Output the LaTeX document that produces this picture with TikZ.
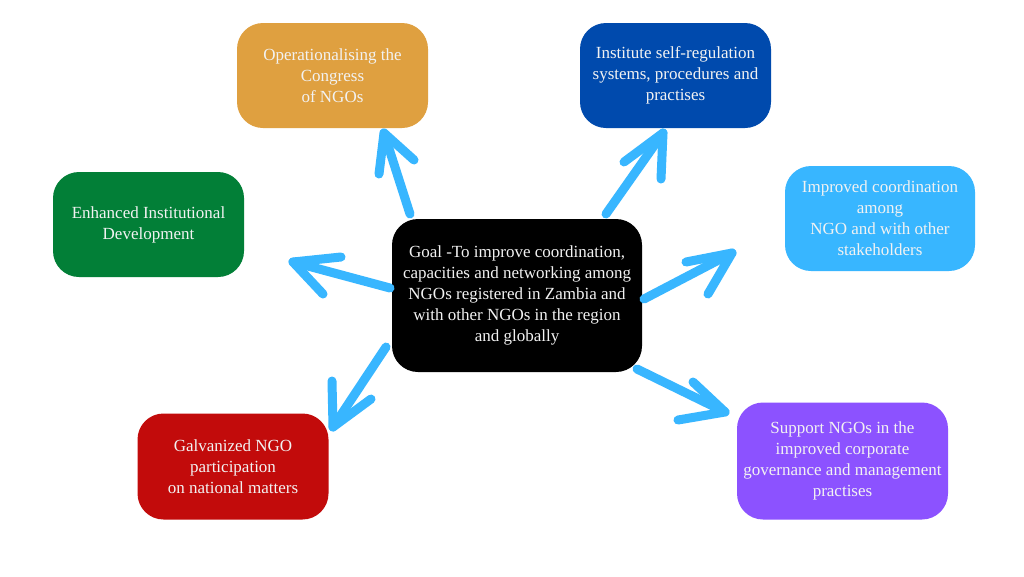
\documentclass[tikz,border=0pt]{standalone}
\usepackage{fontspec}
\setmainfont{Liberation Serif}
\definecolor{cOrange}{HTML}{DFA040}
\definecolor{cDBlue}{HTML}{004AAD}
\definecolor{cGreen}{HTML}{027F37}
\definecolor{cLBlue}{HTML}{38B6FF}
\definecolor{cRed}{HTML}{C20B0B}
\definecolor{cPurple}{HTML}{8C52FF}
\definecolor{cArrow}{HTML}{38B6FF}
\definecolor{cText}{HTML}{F2F2F2}
\tikzset{
  box/.style={rounded corners=26pt, inner sep=0pt, text=cText, align=center,
    font=\fontsize{17}{21}\selectfont},
  handarrow/.style={draw=cArrow, line width=9pt, line cap=round, line join=round}
}
\begin{document}
\begin{tikzpicture}[x=1pt,y=-1pt]
\useasboundingbox[fill=white] (0,0) rectangle (1024,576);
% boxes
\node[box, fill=cOrange, minimum width=191pt, minimum height=105pt] (ops) at (332.5,75.5)
  {Operationalising the\\Congress\\of NGOs};
\node[box, fill=cDBlue, minimum width=191pt, minimum height=105pt] (inst) at (675.5,75.5)
  {Institute self-regulation\\systems, procedures and\\practises};
\node[box, fill=cGreen, minimum width=191pt, minimum height=105pt] (enh) at (148.5,224.5)
  {Enhanced Institutional\\Development};
\node[box, fill=cLBlue, minimum width=190pt, minimum height=105pt] (imp) at (880,218.5)
  {Improved coordination\\among\\NGO and with other\\stakeholders};
\node[box, fill=black, minimum width=250pt, minimum height=153pt] (goal) at (517,295.5)
  {Goal -To improve coordination,\\capacities and networking among\\NGOs registered in Zambia and\\with other NGOs in the region\\and globally};
\node[box, fill=cRed, minimum width=191pt, minimum height=106pt] (gal) at (233,466.5)
  {Galvanized NGO\\participation\\on national matters};
\node[box, fill=cPurple, minimum width=211pt, minimum height=117pt] (sup) at (842.5,461)
  {Support NGOs in the\\improved corporate\\governance and management\\practises};
% arrow coordinates
\coordinate (t1) at (410,214); \coordinate (h1) at (384,133);
\coordinate (a1) at (379,174); \coordinate (b1) at (414,160);
\coordinate (t2) at (606,214); \coordinate (h2) at (663,133);
\coordinate (a2) at (624,162); \coordinate (b2) at (661,179);
\coordinate (t3) at (390,288); \coordinate (h3) at (293,262);
\coordinate (a3) at (341,257); \coordinate (b3) at (323,294);
\coordinate (t4) at (644,299); \coordinate (h4) at (732,253);
\coordinate (a4) at (686,262); \coordinate (b4) at (708,294);
\coordinate (t5) at (386,347); \coordinate (h5) at (333,427);
\coordinate (a5) at (332,381); \coordinate (b5) at (371,399);
\coordinate (t6) at (637,369); \coordinate (h6) at (725,412);
\coordinate (a6) at (693,382); \coordinate (b6) at (678,420);
% arrows
\foreach \i in {1,...,6}{
  \draw[handarrow] (t\i) -- (h\i);
  \draw[handarrow] (a\i) -- (h\i) -- (b\i);
}
\end{tikzpicture}
\end{document}
